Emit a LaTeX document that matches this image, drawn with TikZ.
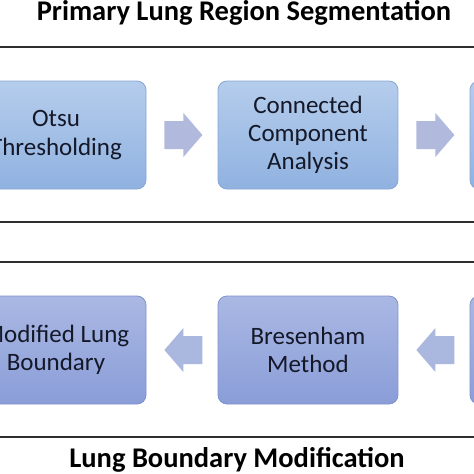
\documentclass[tikz,border=0pt]{standalone}
\usepackage{fontspec}
\setmainfont{Carlito}
\usetikzlibrary{calc}
\definecolor{topA}{HTML}{B5CDEC}
\definecolor{topB}{HTML}{90B2E0}
\definecolor{botA}{HTML}{AAB8E3}
\definecolor{botB}{HTML}{8A9DD8}
\definecolor{edgeT}{HTML}{88A7D4}
\definecolor{edgeB}{HTML}{7F93CC}
\definecolor{arrT}{HTML}{B1B9DD}
\definecolor{arrB}{HTML}{AAB7DF}
\definecolor{txt}{HTML}{141828}
\definecolor{rulec}{HTML}{2E2E2E}
\tikzset{
  box/.style={rounded corners=9pt, minimum width=180pt, minimum height=108pt,
    align=center, font=\fontsize{25}{28.3}\selectfont, text=txt, line width=0.8pt},
  toprow/.style={box, draw=edgeT, top color=topA, bottom color=topB},
  botrow/.style={box, draw=edgeB, top color=botA, bottom color=botB},
  ttl/.style={font=\fontsize{28.5}{32}\selectfont\bfseries, text=black, inner sep=0pt},
  rule/.style={draw=rulec, line width=1.1pt},
}
\begin{document}
\begin{tikzpicture}[x=1pt,y=-1pt]
\useasboundingbox (0,0) rectangle (474,474);
\fill[white] (0,0) rectangle (474,474);
\node[ttl] (t1) at (244,13) {Primary Lung Region Segmentation};
\node[ttl] (t2) at (237,460) {Lung Boundary Modification};
\draw[rule] (0,47) -- (474,47);
\draw[rule] (0,222) -- (474,222);
\draw[rule] (0,262) -- (474,262);
\draw[rule] (0,437) -- (474,437);
\node[toprow] (a1) at (56,135) {Otsu\\Thresholding};
\node[toprow] (a2) at (308,135) {Connected\\Component\\Analysis};
\node[toprow] (a3) at (560,135) {};
\node[botrow] (b1) at (56,350) {Modified Lung\\Boundary};
\node[botrow] (b2) at (308,350) {Bresenham\\Method};
\node[botrow] (b3) at (560,350) {};
% right-pointing block arrows
\foreach \s in {a1,a2}{
  \fill[arrT] ($(\s.east)+(18,-14)$) -- ++(19,0) -- ++(0,-8) -- ++(19,22) -- ++(-19,22) -- ++(0,-8) -- ++(-19,0) -- cycle;
}
% left-pointing block arrows
\foreach \s in {b1,b2}{
  \fill[arrB] ($(\s.east)+(56,-14)$) -- ++(-19,0) -- ++(0,-8) -- ++(-19,22) -- ++(19,22) -- ++(0,-8) -- ++(19,0) -- cycle;
}
\end{tikzpicture}
\end{document}
